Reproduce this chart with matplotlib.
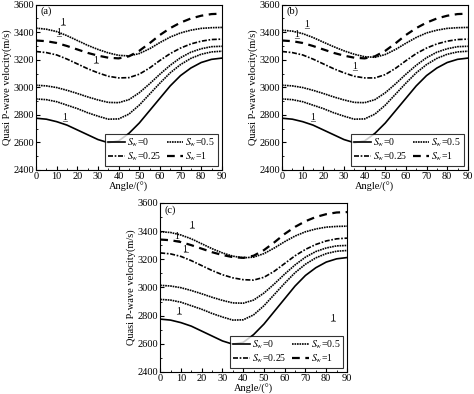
import matplotlib
matplotlib.use('Agg')
from matplotlib import pyplot as plt
from matplotlib.ticker import MultipleLocator

plt.rcParams['font.family'] = ['Liberation Serif', 'DejaVu Serif']
plt.rcParams['mathtext.fontset'] = 'stix'
plt.rcParams['font.size'] = 7.5

angle = [0, 5, 10, 15, 20, 25, 30, 35, 40, 45, 50, 55, 60, 65, 70, 75, 80, 85, 90]

# curves shared by all panels
v_sw0 = [2775, 2768, 2750, 2725, 2690, 2655, 2620, 2597, 2610, 2665, 2740, 2830, 2920, 3010, 3085, 3140, 3180, 3203, 3212]
v_low = [2915, 2910, 2895, 2870, 2845, 2815, 2790, 2768, 2770, 2805, 2870, 2950, 3030, 3105, 3165, 3210, 3240, 3257, 3262]
v_mid = [3015, 3010, 2998, 2978, 2955, 2930, 2908, 2890, 2888, 2910, 2960, 3025, 3095, 3160, 3215, 3255, 3280, 3295, 3298]
v_sw1 = [3340, 3335, 3322, 3300, 3275, 3250, 3230, 3215, 3210, 3225, 3265, 3320, 3380, 3430, 3470, 3500, 3520, 3532, 3535]

# curves that change between panels
v_dd = {
    'a': [3260, 3252, 3235, 3205, 3170, 3135, 3105, 3080, 3068, 3070, 3095, 3140, 3195, 3245, 3285, 3315, 3335, 3347, 3350],
    'b': [3260, 3252, 3235, 3205, 3170, 3135, 3105, 3080, 3068, 3068, 3092, 3138, 3193, 3245, 3285, 3315, 3335, 3347, 3350],
    'c': [3245, 3238, 3220, 3190, 3155, 3120, 3090, 3068, 3055, 3052, 3072, 3115, 3170, 3225, 3270, 3305, 3330, 3345, 3350],
}
v_top = {
    'a': [3430, 3422, 3405, 3375, 3340, 3305, 3275, 3250, 3232, 3228, 3245, 3280, 3325, 3365, 3395, 3415, 3428, 3433, 3435],
    'b': [3415, 3408, 3390, 3362, 3328, 3295, 3265, 3240, 3222, 3218, 3238, 3275, 3320, 3362, 3395, 3415, 3428, 3433, 3435],
    'c': [3395, 3390, 3372, 3345, 3310, 3275, 3245, 3222, 3210, 3215, 3240, 3280, 3325, 3365, 3395, 3415, 3428, 3433, 3435],
}

# positions of the small underlined "1" marks
marks = {
    'a': [(13, 3440), (11, 3362), (29, 3165), (14, 2748)],
    'b': [(12, 3425), (7, 3350), (35, 3120), (15, 2748)],
    'c': [(15, 3410), (8, 3330), (12, 3240), (9, 2800), (83, 2750)],
}

fig = plt.figure(figsize=(4.74, 3.94), dpi=100)
rects = {
    'a': [0.076, 0.569, 0.392, 0.419],
    'b': [0.595, 0.569, 0.392, 0.419],
    'c': [0.338, 0.056, 0.394, 0.429],
}

dot = (0, (1.0, 0.5))
for key, rect in rects.items():
    ax = fig.add_axes(rect)
    ax.plot(angle, v_sw0, color='k', lw=1.2, ls='-', label='$S_{\\rm w}$=0')
    ax.plot(angle, v_dd[key], color='k', lw=1.2, ls=(0, (3, 1, 1, 1)), label='$S_{\\rm w}$=0.25')
    ax.plot(angle, v_low, color='k', lw=1.2, ls=dot, label='$S_{\\rm w}$=0.5')
    ax.plot(angle, v_mid, color='k', lw=1.2, ls=dot)
    ax.plot(angle, v_top[key], color='k', lw=1.2, ls=dot)
    ax.plot(angle, v_sw1, color='k', lw=1.6, ls=(0, (3.5, 2.5)), label='$S_{\\rm w}$=1')
    for x, y in marks[key]:
        ax.text(x, y, '1', ha='center', va='bottom', fontsize=7)
        ax.text(x, y, '_', ha='center', va='bottom', fontsize=7)
    ax.text(2, 3550, '(' + key + ')', ha='left', va='center', fontsize=7.5)
    ax.set_xlim(0, 90)
    ax.set_ylim(2400, 3600)
    ax.xaxis.set_major_locator(MultipleLocator(10))
    ax.xaxis.set_minor_locator(MultipleLocator(5))
    ax.yaxis.set_major_locator(MultipleLocator(200))
    ax.yaxis.set_minor_locator(MultipleLocator(100))
    ax.tick_params(which='both', direction='in', labelsize=7.5, pad=1.5)
    ax.tick_params(which='major', length=3)
    ax.tick_params(which='minor', length=1.5)
    ax.set_xlabel('Angle/(°)', fontsize=7.5, labelpad=1)
    ax.set_ylabel('Quasi P-wave velocity(m/s)', fontsize=7.5, labelpad=1)
    leg = ax.legend(loc='lower right', ncol=2, fontsize=7, frameon=True, fancybox=False,
                    edgecolor='k', handlelength=1.7, handletextpad=0.2, columnspacing=0.6,
                    borderpad=0.3, labelspacing=0.15, borderaxespad=0.4)
    leg.get_frame().set_linewidth(0.8)

plt.savefig('out.png', dpi=100)
